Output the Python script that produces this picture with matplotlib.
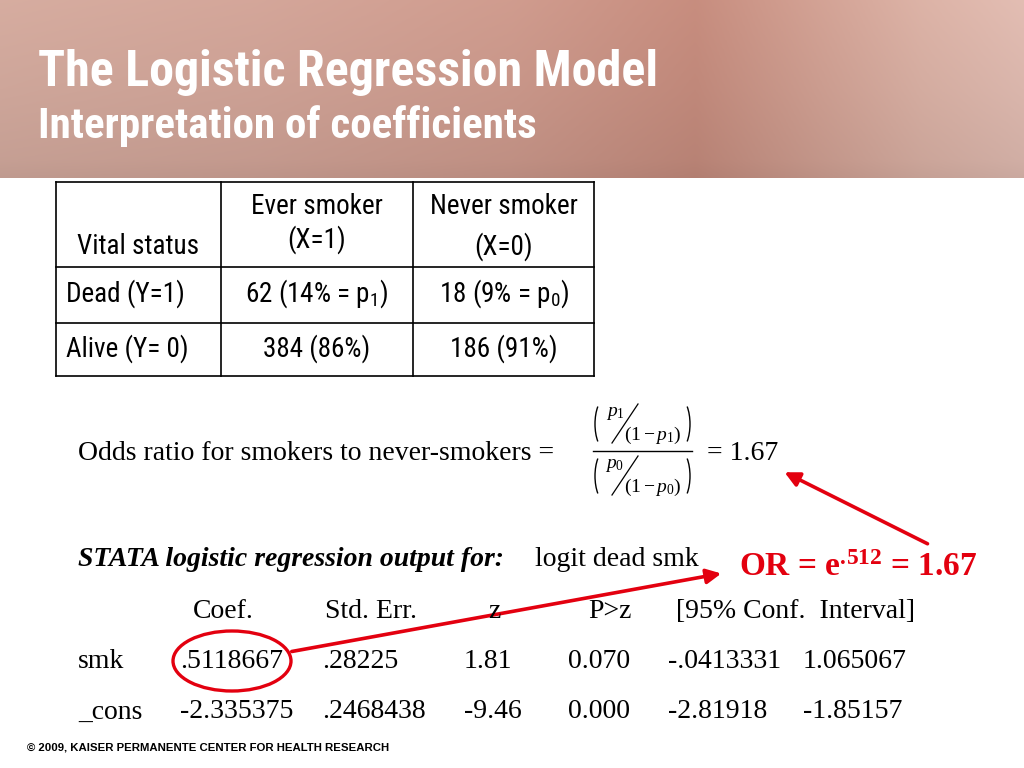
import numpy as np
import matplotlib.pyplot as plt
from matplotlib.patches import Ellipse, FancyArrowPatch, Arc

plt.rcParams['mathtext.fontset'] = 'custom'
plt.rcParams['mathtext.rm'] = 'Liberation Serif'
plt.rcParams['mathtext.it'] = 'Liberation Serif:italic'
plt.rcParams['mathtext.bf'] = 'Liberation Serif:bold'

title = "The Logistic Regression Model"
subtitle = "Interpretation of coefficients"

# 2x2 table
col_heads = ["Vital status", "Ever smoker\n(X=1)", "Never smoker\n(X=0)"]
row_labels = ["Dead (Y=1)", "Alive (Y= 0)"]
ever_smoker = [r"62 (14% = $\mathregular{p_1}$)", "384 (86%)"]
never_smoker = [r"18 (9% = $\mathregular{p_0}$)", "186 (91%)"]

odds_text = "Odds ratio for smokers to never-smokers ="
odds_ratio = 1.67

stata_label = "STATA logistic regression output for:"
stata_cmd = "logit dead smk"
or_text = r"OR = $\mathregular{e^{.\!512}}$ = 1.67"

# regression output
reg_cols = ["Coef.", "Std. Err.", "z", "P>z", "[95% Conf.  Interval]"]
reg_rows = ["smk", "_cons"]
coef = [".5118667", "-2.335375"]
std_err = [".28225", ".2468438"]
z_val = ["1.81", "-9.46"]
p_val = ["0.070", "0.000"]
ci_low = ["-.0413331", "-2.81918"]
ci_high = ["1.065067", "-1.85157"]

footer = "\u00a9 2009, KAISER PERMANENTE CENTER FOR HEALTH RESEARCH"

RED = '#e3000f'
NARROW = ['Liberation Sans Narrow', 'Roboto Condensed', 'Archivo Narrow', 'Barlow Semi Condensed']
NARROW_BOLD = ['Liberation Sans Narrow', 'Roboto Condensed', 'PT Sans Narrow', 'Barlow Semi Condensed']
SERIF = 'Liberation Serif'

fig = plt.figure(figsize=(10.24, 7.68), dpi=100)
ax = fig.add_axes([0, 0, 1, 1])
ax.set_xlim(0, 1024)
ax.set_ylim(768, 0)
ax.axis('off')

# header band with soft pink gradient
xs = np.linspace(0, 1, 400)
stops = [0, 0.25, 0.5, 0.68, 0.8, 0.9, 1]
cols = np.array([[206, 166, 154], [204, 160, 148], [200, 150, 137],
                 [192, 136, 122], [203, 156, 143], [212, 172, 160],
                 [218, 182, 172]]) / 255
row = np.stack([np.interp(xs, stops, cols[:, c]) for c in range(3)], axis=-1)
ys = np.linspace(0, 1, 120)
shade = np.interp(ys, [0, 0.5, 0.9, 1], [1.04, 1.0, 0.96, 0.93])
grad = np.clip(row[None, :, :] * shade[:, None, None], 0, 1)
ax.imshow(grad, extent=(0, 1024, 178, 0), aspect='auto', zorder=0)

ax.text(38, 72, title, color='white', fontsize=36, fontweight='bold',
        family=NARROW_BOLD, va='center', ha='left')
ax.text(38, 126, subtitle, color='white', fontsize=31, fontweight='bold',
        family=NARROW_BOLD, va='center', ha='left')

# table grid
x_lines = [56, 221, 413, 594]
y_lines = [182, 267, 323, 376]
for x in x_lines:
    ax.plot([x, x], [y_lines[0], y_lines[-1]], color='black', lw=1.2)
for y in y_lines:
    ax.plot([x_lines[0], x_lines[-1]], [y, y], color='black', lw=1.2)

tfs = 19.5
ax.text(138, 246, col_heads[0], fontsize=tfs, family=NARROW, ha='center', va='center')
for cx, head, y2 in zip([317, 504], col_heads[1:], [240, 247]):
    top, bottom = head.split("\n")
    ax.text(cx, 206, top, fontsize=tfs, family=NARROW, ha='center', va='center')
    ax.text(cx, y2, bottom, fontsize=tfs, family=NARROW, ha='center', va='center')

row_y = [294, 349]
for i, y in enumerate(row_y):
    ax.text(66, y, row_labels[i], fontsize=tfs, family=NARROW, ha='left', va='center')
    ax.text(317, y, ever_smoker[i], fontsize=tfs, family=NARROW, ha='center', va='center')
    ax.text(504, y, never_smoker[i], fontsize=tfs, family=NARROW, ha='center', va='center')

# odds ratio formula
fs = 20
ax.text(78, 453, odds_text, fontsize=fs, family=SERIF, ha='left', va='center')
ax.plot([593, 692], [451, 451], color='black', lw=1)
for yc, sub in [(424, '1'), (476, '0')]:
    ax.add_patch(Arc((606, yc), 22, 52, theta1=115, theta2=245, color='black', lw=1))
    ax.add_patch(Arc((679, yc), 22, 52, theta1=-65, theta2=65, color='black', lw=1))
    ax.text(615, yc - 11, rf"$p_{sub}$", fontsize=14, ha='center', va='center')
    ax.plot([638, 612], [yc - 20, yc + 19], color='black', lw=0.9)
    ax.text(653, yc + 11, rf"$(1 - p_{sub})$", fontsize=14, ha='center', va='center')
ax.text(707, 453, f"= {odds_ratio:.2f}", fontsize=fs, family=SERIF, ha='left', va='center')

# STATA output
ax.text(78, 560, stata_label, fontsize=fs, family=SERIF, fontweight='bold',
        style='italic', ha='left', va='center')
ax.text(535, 559, stata_cmd, fontsize=fs, family=SERIF, ha='left', va='center')
ax.text(739, 567, or_text, fontsize=24, family=SERIF, fontweight='bold',
        color=RED, ha='left', va='center')

head_x = [193, 325, 488, 588, 676]
for x, h in zip(head_x, reg_cols):
    ax.text(x, 611, h, fontsize=fs, family=SERIF, ha='left', va='center')

col_x = [180, 322, 464, 568, 668, 803]
cols_data = [coef, std_err, z_val, p_val, ci_low, ci_high]
reg_y = [661, 712]
for i, y in enumerate(reg_y):
    ax.text(78, y, reg_rows[i], fontsize=fs, family=SERIF, ha='left', va='center')
    for x, c in zip(col_x, cols_data):
        ax.text(x, y, c[i], fontsize=fs, family=SERIF, ha='left', va='center')

# highlight and arrows
ax.add_patch(Ellipse((232, 661), 118, 60, fill=False, ec=RED, lw=2.4))
ax.add_patch(FancyArrowPatch((289, 652), (724, 573), arrowstyle='-|>',
                             mutation_scale=22, lw=2.6, color=RED))
ax.add_patch(FancyArrowPatch((930, 545), (782, 471), arrowstyle='-|>',
                             mutation_scale=22, lw=2.6, color=RED))

ax.text(27, 747, footer, fontsize=8.2, family='Liberation Sans', fontweight='bold',
        ha='left', va='center')

fig.savefig('out.png', dpi=100)
